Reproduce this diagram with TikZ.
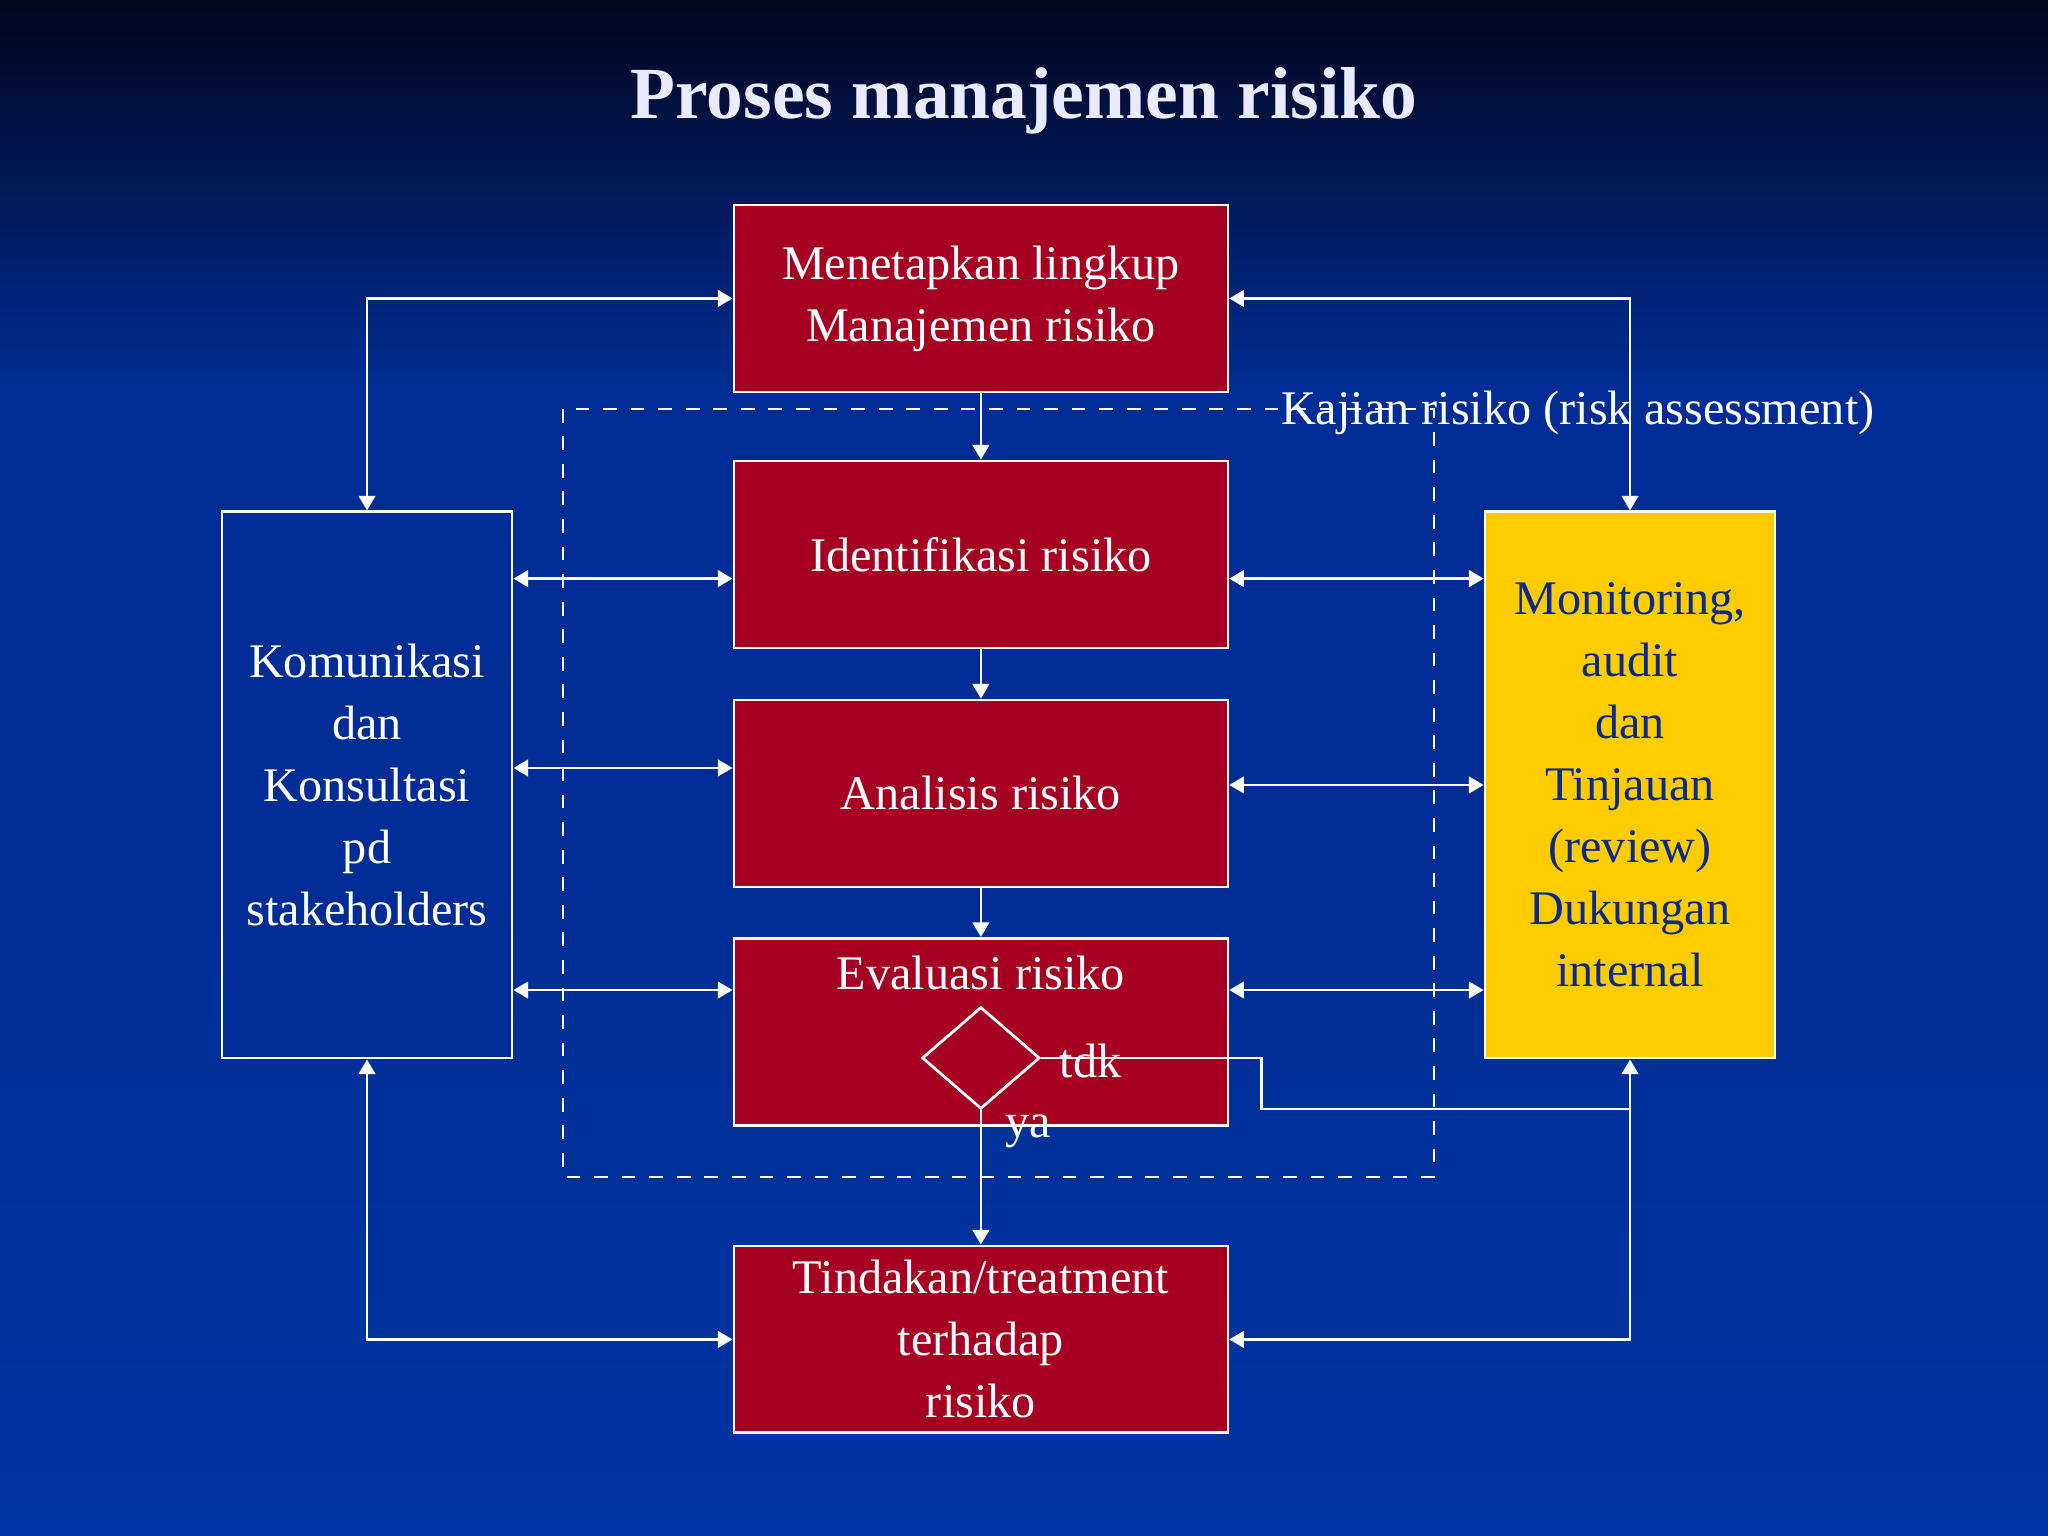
\documentclass[tikz,border=0pt]{standalone}
\usepackage{fontspec}
\setmainfont{Liberation Serif}
\usetikzlibrary{arrows.meta,shapes.geometric}
\definecolor{bgtop}{HTML}{02061E}
\definecolor{bgbot}{HTML}{0036A3}
\definecolor{bgmid}{HTML}{002D95}
\definecolor{redbox}{HTML}{A50021}
\definecolor{yel}{HTML}{FFCC00}
\definecolor{dblue}{HTML}{0A2A8A}
\tikzset{
 rbox/.style={draw=white,line width=0.6pt,fill=redbox,text=white,minimum width=3.78cm,minimum height=1.43cm,align=center,inner sep=0pt,font=\fontsize{10.5}{13.5}\selectfont},
 con/.style={draw=white,line width=0.6pt},
 arr/.style={con,-{Triangle[length=3.2pt,width=3.6pt]}},
 darr/.style={con,{Triangle[length=3.2pt,width=3.6pt]}-{Triangle[length=3.2pt,width=3.6pt]}},
 lbl/.style={text=white,font=\fontsize{10.5}{13.5}\selectfont,inner sep=0pt}
}
\begin{document}
\begin{tikzpicture}[x=0.01cm,y=-0.01cm]
\shade[top color=bgtop,bottom color=bgmid] (0,0) rectangle (1568,300);
\fill[bgmid] (0,299) rectangle (1568,700);
\shade[top color=bgmid,bottom color=bgbot] (0,699) rectangle (1568,1176);
\useasboundingbox (0,0) rectangle (1568,1176);
\node[text=white!92!blue,font=\bfseries\fontsize{16}{19}\selectfont] (title) at (784,77) {Proses manajemen risiko};
\draw[white,dashed,line width=0.5pt] (431,313) rectangle (1098,901);
\node[rbox] (m) at (751,228.5) {Menetapkan lingkup\\Manajemen risiko};
\node[rbox] (i) at (751,424.5) {Identifikasi risiko};
\node[rbox] (a) at (751,607.5) {Analisis risiko};
\node[rbox,text height=0pt] (e) at (751,790) {};
\node[lbl] (et) at (751,745) {Evaluasi risiko};
\node[rbox] (t) at (751,1025.5) {Tindakan/treatment\\terhadap\\risiko};
\node[draw=white,line width=0.6pt,fill=bgmid,text=white,minimum width=2.22cm,minimum height=4.18cm,align=center,inner sep=0pt,font=\fontsize{10.5}{13.5}\selectfont] (k) at (281,601) {Komunikasi\\dan\\Konsultasi\\pd\\stakeholders};
\node[draw=white,line width=0.6pt,fill=yel,text=dblue,minimum width=2.22cm,minimum height=4.18cm,align=center,inner sep=0pt,font=\fontsize{10.5}{13.5}\selectfont] (mo) at (1248,601) {Monitoring,\\audit\\dan\\Tinjauan\\(review)\\Dukungan\\internal};
\node[draw=white,line width=0.6pt,diamond,aspect=1.15,minimum width=0.9cm,minimum height=0.78cm,inner sep=0pt] (d) at (751,810) {};
\node[lbl] (tdk) at (835,812) {tdk};
\node[lbl] (ya) at (787,866) {ya};
\node[lbl] (kaj) at (1208,316) {Kajian risiko (risk assessment)};
\draw[arr] (m.south) -- (i.north);
\draw[arr] (i.south) -- (a.north);
\draw[arr] (a.south) -- (e.north);
\draw[arr] (d.south) -- (t.north);
\draw[darr] (k.north) |- (m.west);
\draw[darr] (m.east) -| (mo.north);
\draw[darr] (k.east |- 0,443) -- (i.west |- 0,443);
\draw[darr] (k.east |- 0,588) -- (a.west |- 0,588);
\draw[darr] (k.east |- 0,758) -- (e.west |- 0,758);
\draw[darr] (i.east |- 0,443) -- (mo.west |- 0,443);
\draw[darr] (a.east |- 0,601) -- (mo.west |- 0,601);
\draw[darr] (e.east |- 0,758) -- (mo.west |- 0,758);
\draw[darr] (k.south) |- (t.west);
\coordinate (c1) at (966,810);
\coordinate (c2) at (966,849);
\coordinate (c3) at (1248,849);
\draw[arr] (d.east) -- (c1) -- (c2) -- (c3) -- (mo.south);
\draw[arr] (c3) |- (t.east);
\end{tikzpicture}
\end{document}
